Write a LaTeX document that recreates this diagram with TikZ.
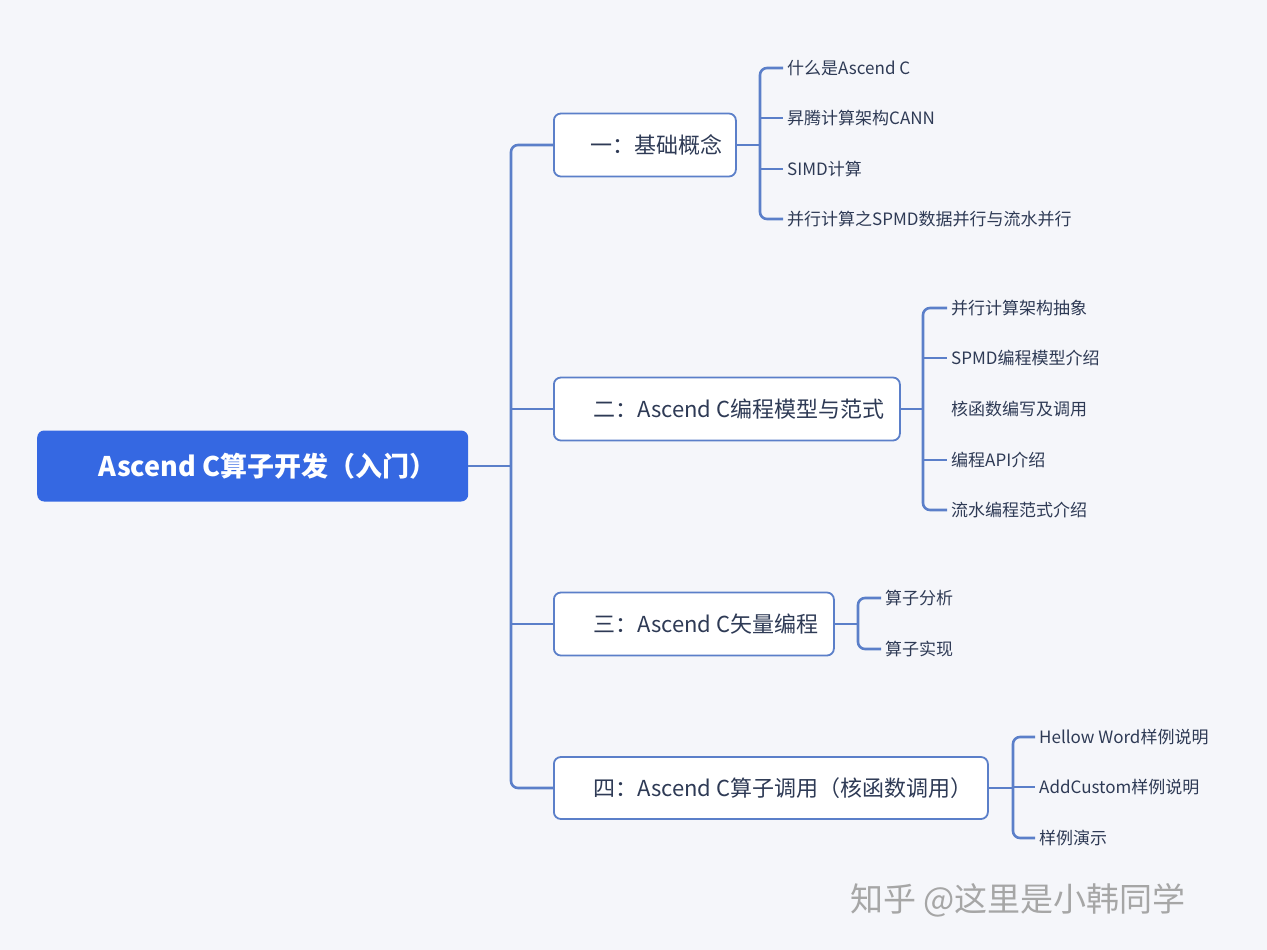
\documentclass[tikz,border=0pt]{standalone}
\usepackage{fontspec}
\setmainfont{Noto Sans CJK SC}
\begin{document}
\begin{tikzpicture}[x=1pt,y=-1pt,
  conn/.style={draw=lc,line width=2.6pt,rounded corners=7pt},
  lvone/.style={draw=lc,line width=1.8pt,fill=white,rounded corners=7pt,text=tc,font=\fontsize{22}{24}\selectfont,anchor=west,inner sep=0pt},
  leaf/.style={anchor=west,text=tc,font=\fontsize{17}{19}\selectfont,inner sep=4pt}]
\definecolor{lc}{HTML}{5B7FC9}
\definecolor{tc}{HTML}{2E3A55}
\definecolor{bg}{HTML}{F5F6FA}
\definecolor{rootc}{HTML}{3568E2}
\fill[bg] (0,0) rectangle (1267,950);
\useasboundingbox (0,0) rectangle (1267,950);
\node[fill=rootc,rounded corners=7pt,minimum width=431pt,minimum height=71pt,anchor=west,text=white,font=\bfseries\fontsize{27}{30}\selectfont,inner sep=0pt] (root) at (37,466) {\hspace{30pt}Ascend C算子开发（入门）\hfill};
\node[lvone,minimum width=182pt,minimum height=63pt] (b1) at (553,145) {\hspace{24pt}一：基础概念\hfill};
\node[lvone,minimum width=346pt,minimum height=63pt] (b2) at (553,409) {\hspace{24pt}二：Ascend C编程模型与范式\hfill};
\node[lvone,minimum width=280pt,minimum height=63pt] (b3) at (553,624) {\hspace{24pt}三：Ascend C矢量编程\hfill};
\node[lvone,minimum width=434pt,minimum height=62pt] (b4) at (553,788) {\hspace{24pt}四：Ascend C算子调用（核函数调用）\hfill};
% trunk
\draw[conn] (b1.west) -- (511,145) -- (511,788) -- (b4.west);
\draw[conn] (root.east) -- (511,466);
\draw[conn] (511,409) -- (b2.west);
\draw[conn] (511,624) -- (b3.west);
% group 1
\node[leaf] (c11) at (783,68) {什么是Ascend C};
\node[leaf] (c12) at (783,118) {昇腾计算架构CANN};
\node[leaf] (c13) at (783,169) {SIMD计算};
\node[leaf] (c14) at (783,219) {并行计算之SPMD数据并行与流水并行};
\draw[conn] (c11.west) -- (760,68) -- (760,219) -- (c14.west);
\draw[conn] (b1.east) -- (760,145);
\draw[conn] (760,118) -- (c12.west);
\draw[conn] (760,169) -- (c13.west);
% group 2
\node[leaf] (c21) at (947,308) {并行计算架构抽象};
\node[leaf] (c22) at (947,358) {SPMD编程模型介绍};
\node[leaf] (c23) at (947,409) {核函数编写及调用};
\node[leaf] (c24) at (947,460) {编程API介绍};
\node[leaf] (c25) at (947,510) {流水编程范式介绍};
\draw[conn] (c21.west) -- (923,308) -- (923,510) -- (c25.west);
\draw[conn] (b2.east) -- (923,409);
\draw[conn] (923,358) -- (c22.west);
\draw[conn] (923,460) -- (c24.west);
% group 3
\node[leaf] (c31) at (881,598) {算子分析};
\node[leaf] (c32) at (881,649) {算子实现};
\draw[conn] (c31.west) -- (858,598) -- (858,649) -- (c32.west);
\draw[conn] (b3.east) -- (858,624);
% group 4
\node[leaf] (c41) at (1035,737) {Hellow Word样例说明};
\node[leaf] (c42) at (1035,787) {AddCustom样例说明};
\node[leaf] (c43) at (1035,838) {样例演示};
\draw[conn] (c41.west) -- (1013,737) -- (1013,838) -- (c43.west);
\draw[conn] (b4.east) -- (1013,788);
\draw[conn] (1013,787) -- (c42.west);
% watermark
\node[anchor=west,text=black!35,font=\fontsize{33}{36}\selectfont,inner sep=0pt] (wm) at (850,900) {知乎 @这里是小韩同学};
\end{tikzpicture}
\end{document}
